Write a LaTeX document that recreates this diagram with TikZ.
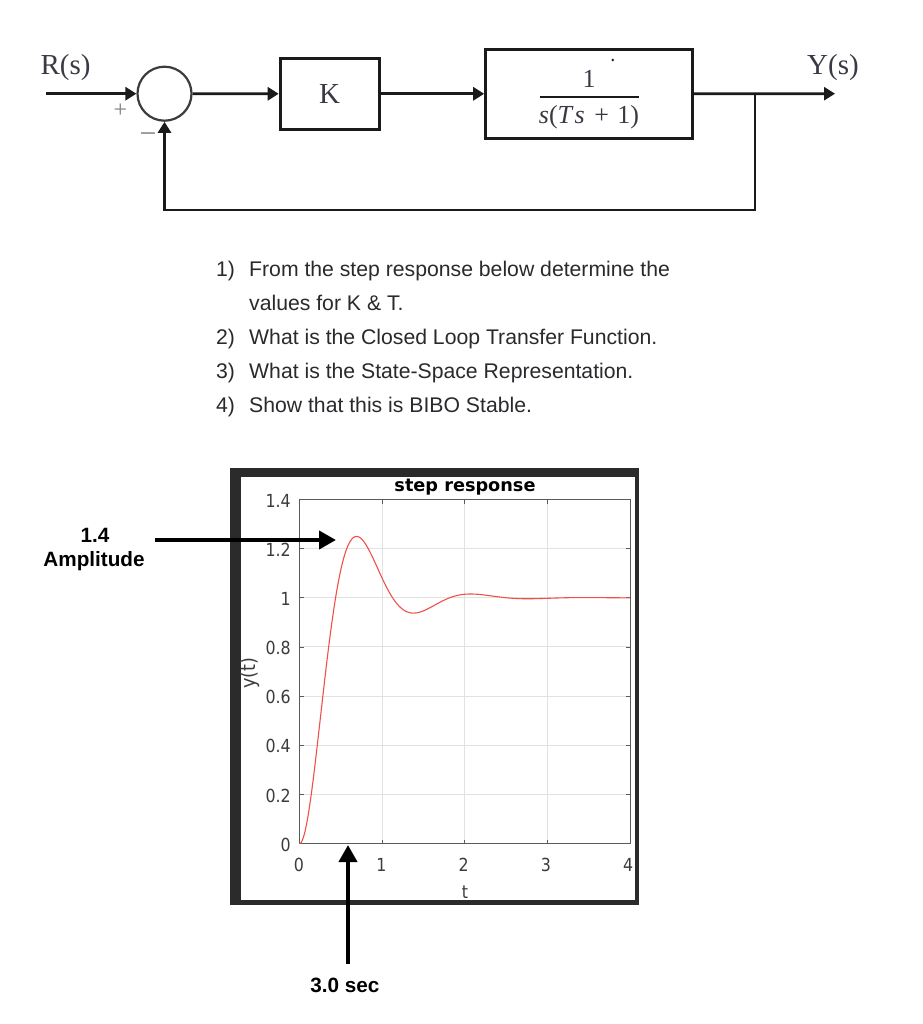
\documentclass[tikz,border=0pt]{standalone}
\usepackage{fontspec}
\setmainfont{Liberation Sans}
\newfontfamily\serifdia{Liberation Serif}
\newfontfamily\plotfont[FakeStretch=0.88]{DejaVu Sans}
\newfontfamily\titlefont{DejaVu Sans}
\usetikzlibrary{arrows.meta}
\definecolor{ink}{HTML}{1A1A1A}
\definecolor{txt}{HTML}{3A3A44}
\definecolor{listc}{HTML}{2A2A2E}
\definecolor{plotink}{HTML}{3C3C3C}
\definecolor{gridc}{HTML}{E2E2E2}
\definecolor{axisc}{HTML}{5A5A5A}
\definecolor{framec}{HTML}{2B2B2B}
\definecolor{curvec}{HTML}{F0504A}
\tikzset{
  x=1pt,y=-1pt,
  sig/.style={draw=ink,line width=2.8pt,-{Triangle[length=11pt,width=13pt]}},
  blockbox/.style={draw=ink,line width=3pt,fill=white,inner sep=0pt},
  sumring/.style={circle,draw=ink!85,line width=2.2pt,minimum size=54pt,inner sep=0pt},
  serifl/.style={font=\serifdia\fontsize{29}{29}\selectfont,text=txt,inner sep=0pt},
  listl/.style={font=\fontsize{21.2}{21.2}\selectfont,text=listc,anchor=base west,inner sep=0pt},
  tickl/.style={font=\plotfont\fontsize{18}{18}\selectfont,text=plotink,inner sep=0pt},
  callout/.style={draw=black,line width=4pt,-{Triangle[length=17pt,width=18pt]}},
  calloutl/.style={font=\bfseries\fontsize{20.7}{20.7}\selectfont,text=black,inner sep=0pt},
}
\begin{document}
\begin{tikzpicture}
\useasboundingbox (0,0) rectangle (922,1024);
\fill[white] (0,0) rectangle (922,1024);
% block diagram
\node[sumring] (sum) at (164.5,93.7) {};
\node[blockbox,minimum width=99pt,minimum height=71pt,font=\serifdia\fontsize{29}{29}\selectfont,text=txt] (K) at (329.7,93.8) {\raisebox{-2.5pt}{K}};
\node[blockbox,minimum width=206.6pt,minimum height=89pt] (G) at (589,93.8) {};
\coordinate (in) at (46,93.7);
\coordinate (out) at (835,93.7);
\coordinate (junc) at (755,93.7);
\coordinate (fbr) at (755,210);
\coordinate (fbl) at (164.5,210);
\coordinate (barl) at (540,97);
\coordinate (barr) at (639,97);
\draw[sig] (in) -- (sum.west);
\draw[sig] (sum.east) -- (K.west);
\draw[sig] (K.east) -- (G.west);
\draw[sig] (G.east) -- (out);
\draw[sig] (junc) -- (fbr) -- (fbl) -- (sum.south);
\draw[draw=ink,line width=1.6pt] (barl) -- (barr);
\node[serifl,font=\serifdia\fontsize{26}{26}\selectfont] (num) at (589,79) {1};
\node[serifl,font=\serifdia\fontsize{26}{26}\selectfont] (den) at (589,117.5) {\textit{s}(\textit{T}\kern1pt\textit{s}\kern3pt{} + \kern2pt{}1)};
\fill[ink] (612.8,60) circle (1.4pt);
\node[serifl] (R) at (65.5,67.5) {R(s)};
\node[serifl] (Y) at (833,67.5) {Y(s)};
\node[font=\serifdia\fontsize{24}{24}\selectfont,text=gray,inner sep=0pt] (plus) at (120.5,111) {+};
\node[font=\serifdia\fontsize{30}{30}\selectfont,text=gray,inner sep=0pt] (minus) at (148,138.5) {−};
% questions
\node[listl] (q1n) at (216,276) {1)};
\node[listl] (q1) at (249,276) {From the step response below determine the};
\node[listl] (q1b) at (249,310) {values for K \& T.};
\node[listl] (q2n) at (216,344) {2)};
\node[listl] (q2) at (249,344) {What is the Closed Loop Transfer Function.};
\node[listl] (q3n) at (216,378) {3)};
\node[listl] (q3) at (249,378) {What is the State-Space Representation.};
\node[listl] (q4n) at (216,412) {4)};
\node[listl] (q4) at (249,412) {Show that this is BIBO Stable.};
% plot frame
\fill[framec] (230,467.5) rectangle (639,904.5);
\fill[white] (240.7,476.7) rectangle (635,900);
% grid
\foreach \t in {1,2,3}
  \draw[gridc,line width=1pt] ({299.5+82.6*\t},499.5) -- ({299.5+82.6*\t},843.7);
\foreach \v in {0.2,0.4,0.6,0.8,1,1.2}
  \draw[gridc,line width=1pt] (299.5,{843.7-245.9*\v}) -- (630,{843.7-245.9*\v});
% ticks
\foreach \t in {1,2,3}{
  \draw[axisc,line width=0.8pt] ({299.5+82.6*\t},843.7) -- ++(0,-4);
  \draw[axisc,line width=0.8pt] ({299.5+82.6*\t},499.5) -- ++(0,4);
}
\foreach \v in {0.2,0.4,0.6,0.8,1,1.2}{
  \draw[axisc,line width=0.8pt] (299.5,{843.7-245.9*\v}) -- ++(4,0);
  \draw[axisc,line width=0.8pt] (630,{843.7-245.9*\v}) -- ++(-4,0);
}
\draw[axisc,line width=1pt] (299.5,499.5) rectangle (630,843.7);
% curve
\draw[curvec,line width=1.1pt] plot[samples=240,domain=0:4]
  ({299.5+82.6*\x},{843.7-245.9*(1-exp(-2.01*\x)*(cos(deg(4.55*\x))+0.4418*sin(deg(4.55*\x))))});
% labels
\foreach \v/\l/\n in {0/0/a,0.2/0.2/b,0.4/0.4/c,0.6/0.6/d,0.8/0.8/e,1/1/f,1.2/1.2/g,1.4/1.4/h}
  \node[tickl,anchor=east] (yl\n) at (291,{843.7-245.9*\v+1}) {\l};
\foreach \t in {0,1,2,3,4}
  \node[tickl] (xl\t) at ({299+82.3*\t},864.5) {\t};
\node[font=\titlefont\bfseries\fontsize{17.7}{17.7}\selectfont,text=black,inner sep=0pt] (title) at (465,487.5) {step response};
\node[tickl] (xlab) at (465,892.5) {t};
\node[tickl,rotate=90,font=\plotfont\fontsize{20}{20}\selectfont] (ylab) at (250,673) {y(t)};
% callouts
\node[calloutl] (amp1) at (95,535) {1.4};
\node[calloutl] (amp2) at (94,561) {Amplitude};
\node[calloutl] (sec) at (345,985) {3.0 sec};
\coordinate (a1s) at (155,540);
\coordinate (a1e) at (336,540);
\coordinate (a2s) at (348,964);
\coordinate (a2e) at (348,845);
\draw[callout] (a1s) -- (a1e);
\draw[callout] (a2s) -- (a2e);
\end{tikzpicture}
\end{document}
